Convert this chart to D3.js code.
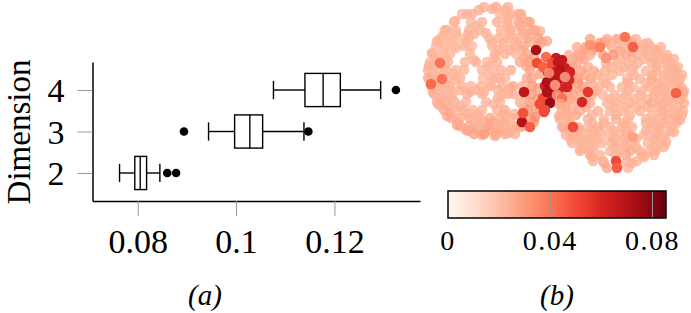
<!DOCTYPE html>
<html>
<head>
<meta charset="utf-8">
<script src="https://cdn.jsdelivr.net/npm/d3@7"></script>
<style>
body { margin: 0; background: #fff; }
svg { display: block; }
text { font-family: "Liberation Serif", serif; fill: #000; }
</style>
</head>
<body>
<div id="chart"></div>
<script>
// (a) box plots, one per dimension
var dimensions = [4, 3, 2];
var whiskerLow = [0.1076, 0.0944, 0.0763];
var quartile1 = [0.1140, 0.0997, 0.0794];
var median = [0.1177, 0.1028, 0.0805];
var quartile3 = [0.1212, 0.1054, 0.0818];
var whiskerHigh = [0.1294, 0.1138, 0.0845];
var outlierDim = [4, 3, 3, 2, 2];
var outlierValue = [0.1325, 0.0894, 0.1147, 0.0860, 0.0878];
var xTicks = [0.08, 0.1, 0.12];
var xTickLabels = ["0.08", "0.1", "0.12"];

// (b) the pale points underneath, left sphere then right sphere
var fillX = [
  72,85,98,110,120,127,59,47,35,25,17,12,9,10,13,19,27,37,49,62,75,88,100,111,120,
  88,102, 56,66,88,100,115, 24,36,48,54,90,105, 18,30,46,72,84,96,110,122,
  24,36,78,90,102,118, 16,26,54,74,104,114, 14,24,44,68,106,120, 14,24,34,70,78,112,
  16,26,36,70,90,102, 20,30,40,50,56,78,104,118, 22,32,64,78,88,118,
  28,40,74,104,116, 30,48,58,84,94,106,114, 38,54,64,74,84,100, 46,58,70,80,92,104,
  212,224,236,246,254,259,263,260,254,246,236,224,212,198,184,172,160,151,144,139,137,139,144,152,161,172,185,
  180,210,228, 163,172,200,212,226,238, 154,164,200,212,224,234,244,254,
  150,168,192,204,214,236,248,258, 152,166,178,192,214,232,244,254,262,
  158,172,186,208,226,238,250,258, 148,160,176,208,222,236,244,256,264,
  150,164,190,202,214,228,240,250,260, 146,166,194,206,216,228,238,248,258,
  146,156,172,196,210,232,244,254,262, 150,172,184,204,226,234,244,256,
  150,160,172,180,194,206,226,238,250, 158,168,178,194,204,216,234,242,
  164,174,196,206,216,234,244, 170,180,196,206,222,234
];
var fillY = [
  9,10,14,22,31,41,10,14,21,30,41,53,66,79,92,105,116,125,131,135,136,133,127,118,108,
  18,18, 26,33,26,26,30, 34,34,34,34,34,34, 42,42,42,42,42,42,42,42,
  50,48,50,50,50,46, 58,58,60,58,58,58, 66,66,70,66,66,74, 74,74,74,76,78,78,
  82,84,80,84,88,86, 90,90,90,92,90,90,94,88, 98,98,92,98,94,98,
  106,106,104,108,108, 114,114,114,114,114,118,122, 122,122,122,122,122,116, 130,130,130,130,128,126,
  41,44,50,58,68,80,92,120,132,142,150,157,163,165,163,157,149,140,128,116,103,90,78,66,55,47,42,
  43,43,43, 51,51,51,51,51,51, 59,59,59,59,59,59,59,59,
  67,67,67,67,67,67,67,67, 75,75,75,75,75,75,75,75,75,
  83,83,83,83,83,83,83,83, 91,91,91,91,91,91,91,91,91,
  99,99,99,99,99,99,99,99,99, 107,107,107,107,107,107,107,107,107,
  115,115,115,115,115,115,115,115,115, 123,123,123,123,123,123,123,123,
  131,131,131,131,131,131,131,131,131, 139,139,139,139,139,139,139,139,
  147,147,147,147,147,147,147, 155,155,155,155,155,155
];
var fillValue = [
  .024,.024,.023,.024,.024,.026,.024,.023,.023,.023,.023,.024,.024,.026,.024,.025,.026,.027,.025,.024,.026,.026,.025,.024,.028,
  .023,.024, .023,.023,.023,.024,.025, .022,.022,.023,.023,.023,.024, .022,.022,.023,.022,.023,.023,.024,.027,
  .022,.022,.023,.023,.024,.026, .022,.022,.023,.023,.024,.026, .023,.022,.023,.022,.025,.028, .023,.022,.023,.022,.023,.027,
  .023,.022,.023,.022,.023,.024, .023,.023,.023,.023,.023,.023,.024,.028, .024,.023,.023,.023,.023,.029,
  .024,.023,.023,.024,.028, .024,.023,.024,.023,.024,.025,.030, .025,.024,.024,.024,.024,.025, .027,.025,.026,.027,.025,.026,
  .027,.024,.023,.023,.024,.024,.024,.024,.024,.024,.024,.024,.025,.025,.024,.024,.024,.024,.025,.025,.024,.025,.026,.026,.026,.028,.030,
  .031,.027,.024, .028,.030,.026,.026,.024,.023, .026,.028,.023,.023,.023,.023,.023,.023,
  .026,.025,.024,.023,.023,.023,.023,.023, .026,.025,.024,.023,.023,.024,.023,.023,.024,
  .026,.024,.023,.023,.023,.024,.023,.024, .026,.026,.023,.023,.023,.024,.024,.023,.024,
  .026,.025,.023,.023,.023,.023,.024,.024,.024, .025,.025,.023,.023,.023,.024,.024,.023,.024,
  .025,.026,.024,.023,.023,.024,.024,.023,.024, .025,.024,.024,.023,.024,.025,.024,.024,
  .024,.024,.024,.024,.023,.023,.024,.024,.024, .024,.024,.024,.023,.023,.023,.023,.024,
  .024,.024,.024,.024,.023,.023,.024, .024,.024,.024,.025,.024,.024
];

var pointX = [
  64,76,88, 42,52,80,91,101, 34,51,62,77,87,98,108, 27,36,49,60,81,91,102,112,
  21,30,39,49,69,79,88,98,108,118, 16,25,34,44,52,72,83,94,104, 13,22,30,50,75,85,96,107,
  10,19,28,45,56,67,77,100,109, 8,17,26,36,62,72,81,91,110, 8,17,27,40,63,74,85,107,
  11,20,30,42,51,61,71,82,93,112, 14,23,32,47,62,83,94,112, 17,26,35,46,66,80,100,110,
  24,34,43,53,62,77,85,108, 31,40,50,60,70,80,91, 40,49,58,68,77,86,97, 54,64,76,85,95,
  170,187,197,216, 157,166,175,192,202,222,231,241, 149,158,170,183,193,206,217,228,238,247,
  146,157,186,197,208,218,232,242,251, 140,161,174,185,200,211,226,237,248,256,
  146,158,170,183,207,220,232,243,253,260, 152,163,179,190,202,213,230,241,248,261,
  143,154,172,183,195,206,220,234,247,263, 147,157,170,187,197,210,222,232,243,252,264,
  142,152,160,178,190,202,220,242,253,263, 140,148,168,184,196,208,226,237,248,258,
  142,158,168,178,190,202,212,230,240,252, 146,154,164,174,188,198,208,224,235,245,
  152,162,172,182,192,202,212,228,238, 160,169,190,200,210,220,230, 173,183,207,217, 187,208,
  20,11,22,116,104,102,103,110,115,120,124,
  136,142,135,145,128,137,133,131,140,149,125,123,
  117,126,123,132,138,140,133,127,127,143,150,147,130,136,120,125,145,135,137,142,140,129,
  213,256,205,180,170,162,168,196,197,213,153,186
];
var pointY = [
  7,7,7, 14,14,14,14,14, 22,22,22,22,22,22,22, 30,30,30,30,30,30,30,30,
  38,38,38,38,38,38,38,38,38,38, 46,46,46,46,46,46,46,46,46, 54,54,54,54,54,54,54,54,
  62,62,62,62,62,62,62,62,62, 70,70,70,70,70,70,70,70,70, 78,78,78,78,78,78,78,78,
  86,86,86,86,86,86,86,86,86,86, 94,94,94,94,94,94,94,94, 102,102,102,102,102,102,102,102,
  110,110,110,110,110,110,110,110, 118,118,118,118,118,118,118, 126,126,126,126,126,126,126, 134,134,134,134,134,
  39,39,39,39, 47,47,47,47,47,47,47,47, 55,55,55,55,55,55,55,55,55,55,
  63,63,63,63,63,63,63,63,63, 71,71,71,71,71,71,71,71,71,71,
  79,79,79,79,79,79,79,79,79,79, 87,87,87,87,87,87,87,87,87,87,
  95,95,95,95,95,95,95,95,95,95, 103,103,103,103,103,103,103,103,103,103,103,
  111,111,111,111,111,111,111,111,111,111, 119,119,119,119,119,119,119,119,119,119,
  127,127,127,127,127,127,127,127,127,127, 135,135,135,135,135,135,135,135,135,135,
  143,143,143,143,143,143,143,143,143, 151,151,151,151,151,151,151, 161,161,161,161, 168,168,
  63,84,79,50,92,122,113,127,117,104,112,
  58,60,66,68,72,82,90,97,88,80,86,98,
  63,57,67,63,62,70,77,82,92,78,72,87,103,72,104,110,77,85,95,98,104,73,
  47,93,37,47,45,102,92,161,168,137,127,58
];
var pointValue = [
  .024,.026,.024, .023,.024,.023,.024,.025, .023,.022,.023,.024,.023,.026,.027, .023,.022,.023,.023,.023,.024,.025,.027,
  .023,.022,.022,.023,.023,.024,.023,.024,.026,.029, .022,.022,.022,.023,.022,.023,.022,.024,.026, .023,.022,.022,.023,.023,.024,.023,.026,
  .023,.022,.023,.023,.023,.022,.023,.026,.028, .024,.022,.023,.023,.023,.022,.024,.025,.028, .025,.023,.023,.023,.022,.023,.024,.027,
  .024,.023,.023,.023,.022,.023,.023,.024,.026,.030, .024,.023,.023,.024,.023,.023,.025,.029, .025,.024,.023,.023,.023,.023,.025,.030,
  .026,.024,.024,.023,.023,.024,.025,.031, .026,.025,.024,.024,.027,.025,.025, .027,.026,.024,.028,.025,.024,.025, .028,.030,.026,.025,.025,
  .027,.026,.028,.024, .025,.027,.030,.026,.025,.024,.023,.023, .025,.026,.024,.027,.032,.026,.024,.023,.023,.023,
  .024,.026,.024,.023,.023,.023,.024,.023,.023, .026,.028,.025,.024,.023,.023,.023,.024,.023,.024,
  .025,.030,.026,.023,.024,.023,.025,.023,.023,.023, .027,.030,.024,.023,.023,.023,.024,.024,.023,.024,
  .025,.027,.024,.023,.023,.023,.023,.024,.023,.024, .025,.026,.025,.023,.023,.023,.023,.025,.024,.023,.024,
  .025,.025,.025,.024,.023,.023,.024,.024,.023,.024, .024,.024,.024,.023,.024,.023,.023,.023,.024,.024,
  .025,.024,.023,.024,.023,.024,.024,.023,.024,.023, .024,.024,.023,.023,.023,.023,.023,.023,.023,.023,
  .023,.023,.023,.023,.024,.023,.023,.023,.023, .023,.024,.023,.023,.026,.024,.023, .024,.024,.023,.023, .026,.023,
  .040,.042,.040,.072,.068,.070,.048,.045,.034,.050,.050,
  .064,.066,.066,.064,.064,.068,.064,.066,.060,.060,.062,.050,
  .050,.042,.044,.050,.066,.070,.070,.072,.072,.066,.062,.062,.076,.068,.050,.050,.026,.026,.027,.040,.026,.030,
  .045,.045,.040,.037,.034,.060,.055,.050,.045,.030,.050,.034
];

// colour bar
var colorMax = 0.0853;
var colorTicks = [0.04, 0.08];
var colorTickLabels = ["0", "0.04", "0.08"];
var colorLabelValues = [0, 0.04, 0.08];

var svg = d3.select("#chart").append("svg")
  .attr("width", 691)
  .attr("height", 313);

// box plot panel
var x = d3.scaleLinear().domain([0.0708, 0.1374]).range([92.5, 420]);
var y = d3.scaleLinear().domain([1.325, 4.675]).range([201, 62]);

var xAxis = svg.append("g")
  .attr("transform", "translate(0,201)")
  .call(d3.axisBottom(x).tickValues(xTicks)
    .tickFormat(function(d, i) { return xTickLabels[i]; })
    .tickSize(15).tickSizeOuter(0));
var yAxis = svg.append("g")
  .attr("transform", "translate(92.5,0)")
  .call(d3.axisLeft(y).tickValues(dimensions).tickFormat(d3.format("d"))
    .tickSize(15).tickSizeOuter(0));

[xAxis, yAxis].forEach(function(a) {
  a.select(".domain").attr("stroke", "#000").attr("stroke-width", 1.5);
  a.selectAll(".tick line").attr("stroke", "#999").attr("stroke-width", 1);
  a.selectAll(".tick text").style("font-size", "34px").attr("fill", "#000");
});
xAxis.selectAll(".tick text").attr("y", 28).attr("dy", "0.71em");
yAxis.selectAll(".tick text").attr("x", -28).attr("dy", "0.34em");

svg.append("text")
  .attr("transform", "translate(29.5,132) rotate(-90)")
  .attr("text-anchor", "middle")
  .style("font-size", "33px")
  .text("Dimension");

var boxes = svg.append("g").selectAll("g")
  .data(dimensions)
  .join("g")
  .attr("fill", "none")
  .attr("stroke", "#000")
  .attr("stroke-width", 1.4);

boxes.append("line")
  .attr("x1", function(d, i) { return x(whiskerLow[i]); })
  .attr("x2", function(d, i) { return x(quartile1[i]); })
  .attr("y1", function(d) { return y(d); })
  .attr("y2", function(d) { return y(d); });
boxes.append("line")
  .attr("x1", function(d, i) { return x(quartile3[i]); })
  .attr("x2", function(d, i) { return x(whiskerHigh[i]); })
  .attr("y1", function(d) { return y(d); })
  .attr("y2", function(d) { return y(d); });
boxes.append("line")
  .attr("x1", function(d, i) { return x(whiskerLow[i]); })
  .attr("x2", function(d, i) { return x(whiskerLow[i]); })
  .attr("y1", function(d) { return y(d + 0.22); })
  .attr("y2", function(d) { return y(d - 0.22); });
boxes.append("line")
  .attr("x1", function(d, i) { return x(whiskerHigh[i]); })
  .attr("x2", function(d, i) { return x(whiskerHigh[i]); })
  .attr("y1", function(d) { return y(d + 0.22); })
  .attr("y2", function(d) { return y(d - 0.22); });
boxes.append("rect")
  .attr("x", function(d, i) { return x(quartile1[i]); })
  .attr("width", function(d, i) { return x(quartile3[i]) - x(quartile1[i]); })
  .attr("y", function(d) { return y(d + 0.4); })
  .attr("height", y(0) - y(0.8));
boxes.append("line")
  .attr("x1", function(d, i) { return x(median[i]); })
  .attr("x2", function(d, i) { return x(median[i]); })
  .attr("y1", function(d) { return y(d + 0.4); })
  .attr("y2", function(d) { return y(d - 0.4); });

svg.append("g").selectAll("circle")
  .data(outlierValue)
  .join("circle")
  .attr("cx", function(d) { return x(d); })
  .attr("cy", function(d, i) { return y(outlierDim[i]); })
  .attr("r", 4.3)
  .attr("fill", "#000");

// point panel
var color = d3.scaleSequential(d3.interpolateReds).domain([0, colorMax]);
var px = d3.scaleLinear().domain([0, 270]).range([420, 690]);
var py = d3.scaleLinear().domain([0, 180]).range([0, 180]);
// the pale points look slightly see through where they overlap
function pointOpacity(d) { return d < 0.035 ? 0.8 : 1; }

svg.append("g").selectAll("circle")
  .data(fillValue)
  .join("circle")
  .attr("cx", function(d, i) { return px(fillX[i]); })
  .attr("cy", function(d, i) { return py(fillY[i]); })
  .attr("r", 5.3)
  .attr("fill", function(d) { return color(d); })
  .attr("fill-opacity", pointOpacity);

svg.append("g").selectAll("circle")
  .data(pointValue)
  .join("circle")
  .attr("cx", function(d, i) { return px(pointX[i]); })
  .attr("cy", function(d, i) { return py(pointY[i]); })
  .attr("r", 5.3)
  .attr("fill", function(d) { return color(d); })
  .attr("fill-opacity", pointOpacity);

// colour bar
var cx = d3.scaleLinear().domain([0, colorMax]).range([448, 666]);
var defs = svg.append("defs");
var grad = defs.append("linearGradient").attr("id", "bar");
d3.range(0, 11).forEach(function(i) {
  grad.append("stop")
    .attr("offset", (i * 10) + "%")
    .attr("stop-color", color(colorMax * i / 10));
});
svg.append("rect")
  .attr("x", cx(0))
  .attr("y", 191)
  .attr("width", cx(colorMax) - cx(0))
  .attr("height", 27)
  .attr("fill", "url(#bar)");
svg.append("g").selectAll("line")
  .data(colorTicks)
  .join("line")
  .attr("x1", function(d) { return cx(d); })
  .attr("x2", function(d) { return cx(d); })
  .attr("y1", 191)
  .attr("y2", 218)
  .attr("stroke", "#999")
  .attr("stroke-width", 1);
svg.append("rect")
  .attr("x", cx(0))
  .attr("y", 191)
  .attr("width", cx(colorMax) - cx(0))
  .attr("height", 27)
  .attr("fill", "none")
  .attr("stroke", "#000")
  .attr("stroke-width", 1.5);
svg.append("g").selectAll("text")
  .data(colorLabelValues)
  .join("text")
  .attr("x", function(d) { return cx(d); })
  .attr("y", 250)
  .attr("text-anchor", "middle")
  .style("font-size", "28px")
  .style("letter-spacing", "1.5px")
  .text(function(d, i) { return colorTickLabels[i]; });

// panel captions
svg.append("text").attr("x", 205).attr("y", 305).attr("text-anchor", "middle")
  .style("font-size", "29px").style("font-style", "italic").text("(a)");
svg.append("text").attr("x", 557).attr("y", 305).attr("text-anchor", "middle")
  .style("font-size", "29px").style("font-style", "italic").text("(b)");
</script>
</body>
</html>
